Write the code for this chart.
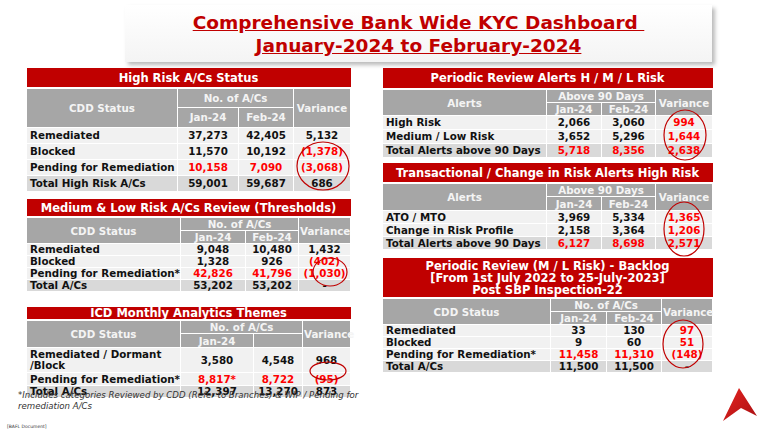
<!DOCTYPE html>
<html><head><meta charset="utf-8">
<script src="https://cdn.jsdelivr.net/npm/chart.js@4"></script>
<style>
body{margin:0;width:768px;height:433px;background:#fff;font-family:"DejaVu Sans",Verdana,sans-serif;position:relative;overflow:hidden}
.title{position:absolute;left:125px;top:5px;width:587px;height:57px;background:linear-gradient(#fff,#f4f4f4);box-shadow:3px 3px 4px #bbb;text-align:center;color:#c00000;font-weight:bold;font-size:18.5px;line-height:23px;padding-top:6px;box-sizing:border-box}
.title span{text-decoration:underline}
table{position:absolute;border-collapse:collapse;table-layout:fixed;font-weight:bold;font-size:10.3px;color:#111}
td{padding:0 1px;white-space:nowrap;overflow:visible;border:1px solid #fff;text-align:center;background:#f1f1f1}
td.l{text-align:left;padding-left:3px}
tr.cap td{background:#c00000;color:#fff;font-size:11.5px;border:none;border-bottom:2px solid #fff}
tr.hd td{background:#a6a6a6;color:#f4f4f4}
tr.tot td{background:#d9d9d9}
.red{color:#f00}
.note{position:absolute;left:18px;top:390px;font-size:8.6px;font-style:italic;color:#333;line-height:11px}
.doc{position:absolute;left:7px;top:424px;font-size:4.5px;color:#333}
</style></head><body>
<div class="title"><span>Comprehensive Bank Wide KYC Dashboard&nbsp;</span><br><span>January-2024 to February-2024</span></div>
<div id="root"></div>
<div class="note">*Includes categories Reviewed by CDD (Refer to Branches) &amp; WIP / Pending for<br>remediation A/Cs</div>
<div class="doc">[BAFL Document]</div>
<canvas id="c" width="768" height="433" style="position:absolute;left:0;top:0;pointer-events:none"></canvas>
<script>
// Table data
const highRiskLabels = ['Remediated', 'Blocked', 'Pending for Remediation', 'Total High Risk A/Cs'];
const highRiskJan = ['37,273', '11,570', '10,158', '59,001'];
const highRiskFeb = ['42,405', '10,192', '7,090', '59,687'];
const highRiskVar = ['5,132', '(1,378)', '(3,068)', '686'];

const medLowLabels = ['Remediated', 'Blocked', 'Pending for Remediation*', 'Total  A/Cs'];
const medLowJan = ['9,048', '1,328', '42,826', '53,202'];
const medLowFeb = ['10,480', '926', '41,796', '53,202'];
const medLowVar = ['1,432', '(402)', '(1,030)', '-'];

const icdLabels = ['Remediated / Dormant<br>/Block', 'Pending for Remediation*', 'Total A/Cs'];
const icdJan = ['3,580', '8,817*', '12,397'];
const icdFeb = ['4,548', '8,722', '13,270'];
const icdVar = ['968', '(95)', '873'];

const prLabels = ['High Risk', 'Medium / Low Risk', 'Total Alerts above 90 Days'];
const prJan = ['2,066', '3,652', '5,718'];
const prFeb = ['3,060', '5,296', '8,356'];
const prVar = ['994', '1,644', '2,638'];

const trLabels = ['ATO / MTO', 'Change in Risk Profile', 'Total Alerts above 90 Days'];
const trJan = ['3,969', '2,158', '6,127'];
const trFeb = ['5,334', '3,364', '8,698'];
const trVar = ['1,365', '1,206', '2,571'];

const blLabels = ['Remediated', 'Blocked', 'Pending for Remediation*', 'Total A/Cs'];
const blJan = ['33', '9', '11,458', '11,500'];
const blFeb = ['130', '60', '11,310', '11,500'];
const blVar = ['97', '51', '(148)', '-'];

const tables = [
  {x:26, y:68, w:[151,61,55,57], cap:'High Risk A/Cs Status', capH:20, h1:'No. of A/Cs', first:'CDD Status', hH:[19,20], rowH:16,
   labels:highRiskLabels, jan:highRiskJan, feb:highRiskFeb, vr:highRiskVar, redRows:[2], redVar:[1,2]},
  {x:26, y:199, w:[154,65,53,52], cap:'Medium &amp; Low Risk A/Cs Review (Thresholds)', capH:18, h1:'No. of A/Cs', first:'CDD Status', hH:[12,13], rowH:12,
   labels:medLowLabels, jan:medLowJan, feb:medLowFeb, vr:medLowVar, redRows:[2], redVar:[1,2]},
  {x:26, y:307, w:[154,73,49,48], cap:'ICD Monthly Analytics Themes', capH:13, h1:'No. of A/Cs', first:'CDD Status', hH:[12,14], rowH:12, tall:[25,13,11], noFeb:true,
   labels:icdLabels, jan:icdJan, feb:icdFeb, vr:icdVar, redRows:[1], redVar:[1]},
  {x:382, y:68, w:[164,55,54,57], cap:'Periodic Review Alerts H / M / L Risk', capH:21, h1:'Above 90 Days', first:'Alerts', hH:[11,12], rowH:14,
   labels:prLabels, jan:prJan, feb:prFeb, vr:prVar, redRows:[2], redVar:[0,1,2]},
  {x:382, y:163, w:[164,55,54,57], cap:'Transactional / Change in Risk Alerts High Risk', capH:20, h1:'Above 90 Days', first:'Alerts', hH:[11,14], rowH:13,
   labels:trLabels, jan:trJan, feb:trFeb, vr:trVar, redRows:[2], redVar:[0,1,2]},
  {x:382, y:258, w:[168,56,55,51], cap:'Periodic Review (M / L Risk) - Backlog<br>[From 1st July 2022 to 25-July-2023]<br>Post SBP Inspection-22', capH:40, h1:'No. of A/Cs', first:'CDD Status', hH:[12,13], rowH:12,
   labels:blLabels, jan:blJan, feb:blFeb, vr:blVar, redRows:[2], redVar:[0,1,2]}
];

const root = document.getElementById('root');
tables.forEach(t => {
  const tw = t.w.reduce((a, b) => a + b, 0);
  let h = `<table style="left:${t.x}px;top:${t.y}px;width:${tw}px"><colgroup>${t.w.map(w => `<col style="width:${w}px">`).join('')}</colgroup>`;
  h += `<tr class="cap" style="height:${t.capH}px"><td colspan="4" style="line-height:12px">${t.cap}</td></tr>`;
  h += `<tr class="hd" style="height:${t.hH[0]}px"><td rowspan="2">${t.first}</td><td colspan="2">${t.h1}</td><td rowspan="2">Variance</td></tr>`;
  h += `<tr class="hd" style="height:${t.hH[1]}px"><td>Jan-24</td><td>${t.noFeb ? '' : 'Feb-24'}</td></tr>`;
  t.labels.forEach((lab, i) => {
    const last = i === t.labels.length - 1;
    const rh = t.tall ? t.tall[i] : t.rowH;
    const rc = t.redRows.includes(i) ? ' red' : '';
    const vc = t.redVar.includes(i) ? ' red' : '';
    h += `<tr class="${last ? 'tot' : ''}" style="height:${rh}px;line-height:11px"><td class="l">${lab}</td><td class="${rc}">${t.jan[i]}</td><td class="${rc}">${t.feb[i]}</td><td class="${vc}">${t.vr[i]}</td></tr>`;
  });
  root.insertAdjacentHTML('beforeend', h + '</table>');
});

// hand-drawn circles and logo on canvas
const ctx = document.getElementById('c').getContext('2d');
ctx.strokeStyle = '#c00000'; ctx.lineWidth = 1.2;
[[323,166,26,24],[330,272,17,14],[328,371,18,9],[685,135,21,25],[684,229,20,27],[683,344,20,24]].forEach(([x,y,rx,ry]) => {
  ctx.beginPath(); ctx.ellipse(x, y, rx, ry, 0, 0, Math.PI * 2); ctx.stroke();
});
const g = ctx.createLinearGradient(725, 388, 758, 420);
g.addColorStop(0, '#e52420'); g.addColorStop(1, '#a80f12');
ctx.fillStyle = g;
ctx.beginPath(); ctx.moveTo(739, 388); ctx.lineTo(723, 421); ctx.lineTo(741, 408); ctx.lineTo(757, 416); ctx.closePath(); ctx.fill();
</script>
</body></html>
